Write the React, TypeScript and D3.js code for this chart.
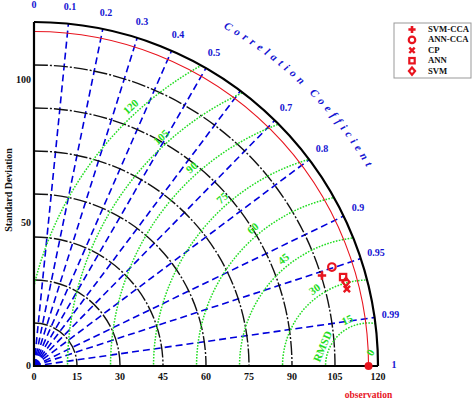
import React from "react";
import * as d3 from "d3";

const W = 474;
const H = 402;

const stdTicks = [0, 15, 30, 45, 60, 75, 90, 105, 120];
const stdArcs = [15, 30, 45, 60, 75, 90, 105];
const yTicks = [0, 50, 100];
const corrLines = [0.1, 0.2, 0.3, 0.4, 0.5, 0.6, 0.7, 0.8, 0.9, 0.95, 0.99];
const corrLabels = [0, 0.1, 0.2, 0.3, 0.4, 0.5, 0.7, 0.8, 0.9, 0.95, 0.99, 1];
const rmsdLevels = [15, 30, 45, 60, 75, 90, 105, 120];
const obsStd = 116.7;
const maxStd = 120;

const models = ["SVM-CCA", "ANN-CCA", "CP", "ANN", "SVM"];
const modelStd = [105.3, 109.5, 112.4, 112.2, 112.7];
const modelCorr = [0.954, 0.949, 0.971, 0.961, 0.9656];
const modelShape = ["plus", "circle", "cross", "square", "diamond"];

const OX = 34;
const OY = 366;
const r = d3.scaleLinear().domain([0, maxStd]).range([0, 344]);

const FONT = "'Liberation Serif', 'Times New Roman', serif";
const BLUE = "#1414d2";
const GREEN = "#22dd22";
const RED = "#e8141e";

function pt(std: number, corr: number): [number, number] {
  const t = Math.acos(corr);
  return [OX + r(std) * Math.cos(t), OY - r(std) * Math.sin(t)];
}
function xy(x: number, y: number): [number, number] {
  return [OX + r(x), OY - r(y)];
}
function quarterArc(s: number) {
  const [x0, y0] = xy(0, s);
  const [x1, y1] = xy(s, 0);
  return `M${x0},${y0} A${r(s)},${r(s)} 0 0 1 ${x1},${y1}`;
}

function Marker({ shape, x, y, s = 4 }: { shape: string; x: number; y: number; s?: number }) {
  const common = { stroke: RED, strokeWidth: 2.2, fill: "none" };
  if (shape === "plus")
    return <path d={`M${x - s},${y}H${x + s}M${x},${y - s}V${y + s}`} {...common} strokeWidth={2.6} />;
  if (shape === "cross")
    return <path d={`M${x - s * 0.75},${y - s * 0.75}L${x + s * 0.75},${y + s * 0.75}M${x - s * 0.75},${y + s * 0.75}L${x + s * 0.75},${y - s * 0.75}`} {...common} strokeWidth={2.4} />;
  if (shape === "circle") return <circle cx={x} cy={y} r={s * 0.9} {...common} />;
  if (shape === "square")
    return <rect x={x - s * 0.75} y={y - s * 0.75} width={s * 1.5} height={s * 1.5} {...common} />;
  return <path d={`M${x},${y - s}L${x + s * 0.85},${y}L${x},${y + s}L${x - s * 0.85},${y}Z`} {...common} />;
}

export default function App() {
  const obsPx = xy(obsStd, 0);
  const clipD = `M${OX},${OY} L${xy(0, maxStd).join(",")} A${r(maxStd)},${r(maxStd)} 0 0 1 ${xy(maxStd, 0).join(",")} Z`;
  const line = d3.line();

  const c = 124;
  const rmsdLabel = (R: number) => {
    const a = 2, b = -2 * (obsStd + c), cc = obsStd * obsStd + c * c - R * R;
    const x = (-b - Math.sqrt(b * b - 4 * a * cc)) / (2 * a);
    const y = c - x;
    const phi = Math.atan2(y, x - obsStd);
    const off = 2.3;
    const lx = obsStd + (R + off) * Math.cos(phi);
    const ly = (R + off) * Math.sin(phi);
    return { p: xy(lx, ly), rot: 90 - (phi * 180) / Math.PI };
  };

  const labelR = 125.6;
  const textR = 135.2;
  const a0 = (61 * Math.PI) / 180;
  const a1 = (18 * Math.PI) / 180;
  const tp0 = [OX + r(textR) * Math.cos(a0), OY - r(textR) * Math.sin(a0)];
  const tp1 = [OX + r(textR) * Math.cos(a1), OY - r(textR) * Math.sin(a1)];
  const textPathD = `M${tp0[0]},${tp0[1]} A${r(textR)},${r(textR)} 0 0 1 ${tp1[0]},${tp1[1]}`;

  const rmsdAngle = (157 * Math.PI) / 180;
  const rmsdTextPos = xy(obsStd + 17 * Math.cos(rmsdAngle), 17 * Math.sin(rmsdAngle));

  return (
    <div style={{ position: "absolute", left: 0, top: 0 }}>
      <svg width={W} height={H} style={{ display: "block", background: "#fff" }} fontFamily={FONT}>
        <defs>
          <clipPath id="quad">
            <path d={clipD} />
          </clipPath>
          <path id="ccPath" d={textPathD} />
        </defs>

        {corrLines.map((cr) => {
          const p1 = pt(maxStd, cr);
          return (
            <path key={"c" + cr} d={line([[OX, OY], p1]) || ""} stroke="#0000dc" strokeWidth={1.6} strokeDasharray="7,4" fill="none" />
          );
        })}

        {stdArcs.map((s) => (
          <path key={"s" + s} d={quarterArc(s)} stroke="#111" strokeWidth={1.4} strokeDasharray="14,2,2,2" fill="none" />
        ))}

        <g clipPath="url(#quad)">
          {rmsdLevels.map((R) => {
            const [x0, y0] = xy(obsStd + R, 0);
            const [x1, y1] = xy(obsStd - R, 0);
            return (
              <path key={"r" + R} d={`M${x0},${y0} A${r(R)},${r(R)} 0 0 0 ${x1},${y1}`} stroke={GREEN} strokeWidth={1.5} strokeDasharray="1.6,1.4" fill="none" />
            );
          })}
        </g>

        <path d={quarterArc(obsStd)} stroke={RED} strokeWidth={1.1} fill="none" />
        <path d={quarterArc(maxStd)} stroke="#000" strokeWidth={2.2} fill="none" />
        <path d={`M${xy(0, maxStd).join(",")} L${OX},${OY} L${xy(maxStd, 0).join(",")}`} stroke="#000" strokeWidth={2.2} fill="none" />

        {rmsdLevels.map((R) => {
          const { p, rot } = rmsdLabel(R);
          return (
            <text key={"rl" + R} x={p[0]} y={p[1]} transform={`rotate(${rot},${p[0]},${p[1]})`} textAnchor="middle" dominantBaseline="middle" fontSize={11} fontWeight="bold" fill={GREEN}>
              {R}
            </text>
          );
        })}
        <text x={obsPx[0] + 3} y={obsPx[1] - 13} transform={`rotate(-60,${obsPx[0] + 3},${obsPx[1] - 13})`} textAnchor="middle" dominantBaseline="middle" fontSize={11} fontWeight="bold" fill={GREEN}>
          0
        </text>
        <text x={rmsdTextPos[0]} y={rmsdTextPos[1]} transform={`rotate(-67,${rmsdTextPos[0]},${rmsdTextPos[1]})`} textAnchor="middle" dominantBaseline="middle" fontSize={11} fontWeight="bold" fill={GREEN}>
          RMSD
        </text>

        {corrLabels.map((cr) => {
          const p = pt(labelR, cr);
          return (
            <text key={"cl" + cr} x={p[0]} y={p[1]} textAnchor="middle" dominantBaseline="middle" fontSize={10} fontWeight="bold" fill={BLUE}>
              {String(cr)}
            </text>
          );
        })}
        <text fontSize={11} fontWeight="bold" fontStyle="italic" fill={BLUE} letterSpacing={4.4}>
          <textPath href="#ccPath" startOffset="0.5%">
            Correlation Coefficient
          </textPath>
        </text>

        {stdTicks.map((t) => (
          <text key={"xt" + t} x={xy(t, 0)[0]} y={378} textAnchor="middle" dominantBaseline="middle" fontSize={10} fontWeight="bold" fill="#111">
            {t}
          </text>
        ))}
        {yTicks.map((t) => (
          <text key={"yt" + t} x={31} y={xy(0, t)[1] + 1} textAnchor="end" dominantBaseline="middle" fontSize={10} fontWeight="bold" fill="#111">
            {t}
          </text>
        ))}
        <text x={10} y={190} transform="rotate(-90,10,190)" textAnchor="middle" dominantBaseline="middle" fontSize={10} fontWeight="bold" fill="#111">
          Standard Deviation
        </text>

        <circle cx={obsPx[0]} cy={obsPx[1]} r={4} fill={RED} />
        <text x={obsPx[0]} y={396} textAnchor="middle" dominantBaseline="middle" fontSize={9.5} fontWeight="bold" fill={RED}>
          observation
        </text>

        {models.map((m, i) => {
          const p = pt(modelStd[i], modelCorr[i]);
          return <Marker key={m} shape={modelShape[i]} x={p[0]} y={p[1]} s={4.2} />;
        })}

        <rect x={394} y={23} width={77} height={55} fill="#fff" stroke="#999" strokeWidth={1} />
        {models.map((m, i) => {
          const y = 29.5 + i * 10.4;
          return (
            <g key={"lg" + m}>
              <Marker shape={modelShape[i]} x={412} y={y} s={3.6} />
              <text x={428} y={y + 0.5} dominantBaseline="middle" fontSize={8.7} fontWeight="bold" fill="#111">
                {m}
              </text>
            </g>
          );
        })}
      </svg>
    </div>
  );
}
